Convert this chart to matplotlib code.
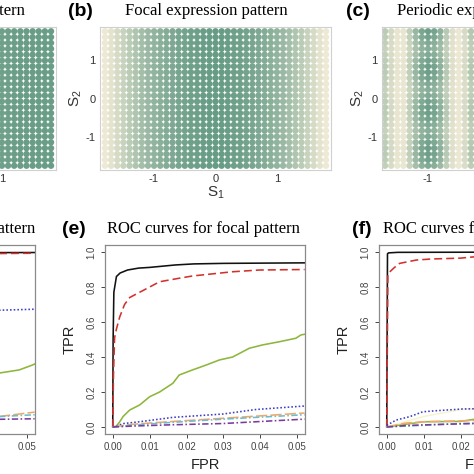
import numpy as np
import matplotlib
matplotlib.use("Agg")
import matplotlib.pyplot as plt
from matplotlib.colors import LinearSegmentedColormap

plt.rcParams["font.family"] = ["Liberation Sans", "DejaVu Sans"]
plt.rcParams["mathtext.default"] = "regular"

# spot grid of the simulated tissue
s1_grid = np.linspace(-1.78, 1.78, 37)
s2_grid = np.linspace(-1.73, 1.73, 24)

# expression level per column (0 = cream, 1 = green)
linear_cols = [0.05, 0.08, 0.11, 0.14, 0.17, 0.2, 0.23, 0.26, 0.3, 0.33, 0.36, 0.4, 0.43,
               0.47, 0.5, 0.54, 0.57, 0.61, 0.64, 0.68, 0.71, 0.75, 0.78, 0.82, 0.85, 0.88,
               0.9, 0.92, 0.94, 0.95, 0.96, 0.97, 0.97, 0.98, 0.98, 0.98, 0.98]
focal_cols = [0.03, 0.1, 0.2, 0.3, 0.4, 0.48, 0.56, 0.63, 0.69, 0.74, 0.79, 0.83, 0.87,
              0.9, 0.93, 0.95, 0.97, 0.99, 1.0, 0.99, 0.97, 0.95, 0.93, 0.9, 0.87, 0.83,
              0.79, 0.74, 0.69, 0.63, 0.56, 0.48, 0.4, 0.3, 0.2, 0.1, 0.03]
periodic_cols = [0.5, 0.4, 0.22, 0.08, 0.08, 0.35, 0.65, 0.85, 0.95, 0.88, 0.72, 0.42, 0.14,
                 0.05, 0.2, 0.45, 0.7, 0.85, 0.9, 0.85, 0.7, 0.45, 0.2, 0.05, 0.14, 0.42,
                 0.72, 0.88, 0.95, 0.85, 0.65, 0.35, 0.08, 0.08, 0.22, 0.4, 0.5]
# weak row-wise modulation of the periodic pattern (bottom to top)
periodic_rows = [0.85, 0.95, 1.0, 1.0, 0.95, 0.85, 0.8, 0.85, 0.95, 1.0, 1.0, 0.95, 0.85,
                 0.8, 0.85, 0.95, 1.0, 1.0, 0.95, 0.85, 0.8, 0.85, 0.95, 1.0]
flat_rows = [1.0] * 24

# ROC curves: FPR / TPR per method
roc_d = {
    "black": ([0, 0.0002, 0.001, 0.01, 0.052], [0, 0.98, 0.99, 0.995, 0.997]),
    "red": ([0, 0.0005, 0.002, 0.01, 0.052], [0, 0.9, 0.96, 0.985, 0.993]),
    "blue": ([0, 0.002, 0.01, 0.03, 0.052], [0, 0.4, 0.6, 0.66, 0.673]),
    "green": ([0, 0.005, 0.02, 0.042, 0.0478, 0.0514, 0.052], [0, 0.1, 0.22, 0.307, 0.326, 0.354, 0.36]),
    "orange": ([0, 0.02, 0.042, 0.052], [0, 0.03, 0.059, 0.085]),
    "cyan": ([0, 0.02, 0.042, 0.052], [0, 0.035, 0.059, 0.07]),
    "purple": ([0, 0.02, 0.042, 0.052], [0, 0.03, 0.044, 0.047]),
}
roc_e = {
    "black": ([0, 0.0001, 0.0003, 0.001, 0.002, 0.004, 0.007, 0.01, 0.013, 0.017, 0.022, 0.03, 0.052],
              [0, 0.5, 0.77, 0.86, 0.88, 0.897, 0.908, 0.912, 0.918, 0.926, 0.932, 0.935, 0.938]),
    "red": ([0, 0.0002, 0.0005, 0.001, 0.0019, 0.0032, 0.0046, 0.0073, 0.01, 0.0127, 0.018, 0.0216, 0.0324, 0.0397, 0.052],
            [0, 0.3, 0.51, 0.56, 0.63, 0.70, 0.74, 0.77, 0.80, 0.83, 0.85, 0.863, 0.887, 0.897, 0.90]),
    "green": ([0, 0.001, 0.0019, 0.0028, 0.0046, 0.0073, 0.01, 0.0127, 0.0163, 0.018, 0.0216, 0.0253, 0.0289, 0.0325, 0.037, 0.0406, 0.0451, 0.0496, 0.051, 0.052],
              [0, 0.005, 0.03, 0.06, 0.097, 0.126, 0.173, 0.20, 0.25, 0.297, 0.326, 0.354, 0.383, 0.40, 0.45, 0.469, 0.487, 0.507, 0.526, 0.53]),
    "blue": ([0, 0.003, 0.0073, 0.0163, 0.0298, 0.0388, 0.052], [0, 0.02, 0.03, 0.055, 0.074, 0.10, 0.12]),
    "orange": ([0, 0.005, 0.015, 0.03, 0.052], [0, 0.015, 0.03, 0.05, 0.08]),
    "cyan": ([0, 0.005, 0.015, 0.03, 0.052], [0, 0.01, 0.025, 0.045, 0.07]),
    "purple": ([0, 0.005, 0.015, 0.03, 0.052], [0, 0.005, 0.012, 0.02, 0.045]),
}
roc_f = {
    "black": ([0, 0.0002, 0.0005, 0.003, 0.052], [0, 0.99, 0.995, 0.998, 1.0]),
    "red": ([0, 0.0003, 0.001, 0.002, 0.0035, 0.008, 0.012, 0.02, 0.0235, 0.052],
            [0, 0.87, 0.89, 0.91, 0.935, 0.954, 0.96, 0.965, 0.972, 0.98]),
    "yellow": ([0, 0.005, 0.01, 0.02, 0.052], [0, 0.03, 0.06, 0.1, 0.14]),
    "blue": ([0, 0.0026, 0.0062, 0.0098, 0.0134, 0.0206, 0.0235, 0.052],
             [0.01, 0.04, 0.059, 0.087, 0.093, 0.103, 0.104, 0.12]),
    "green": ([0, 0.005, 0.01, 0.02, 0.024, 0.052], [0, 0.015, 0.03, 0.032, 0.045, 0.06]),
    "orange": ([0, 0.005, 0.01, 0.02, 0.052], [0, 0.022, 0.03, 0.035, 0.05]),
    "cyan": ([0, 0.01, 0.02, 0.052], [0, 0.01, 0.02, 0.04]),
    "purple": ([0, 0.005, 0.01, 0.02, 0.052], [0, 0.008, 0.012, 0.018, 0.03]),
}

styles = {
    "black": dict(color="#111111", ls="-"),
    "red": dict(color="#d2322d", ls=(0, (5, 2.5))),
    "yellow": dict(color="#f8f4d0", ls="-"),
    "green": dict(color="#8db63c", ls="-"),
    "blue": dict(color="#3c3cc8", ls=(0, (1, 1.3))),
    "orange": dict(color="#f0a868", ls=(0, (7, 2))),
    "cyan": dict(color="#6cbccc", ls=(0, (4, 1.5, 1, 1.5))),
    "purple": dict(color="#7a3c9c", ls=(0, (4, 1.5, 1, 1.5))),
}

cmap = LinearSegmentedColormap.from_list("expr", ["#f2ebd6", "#669b85"])

W = H = 474
fig = plt.figure(figsize=(4.74, 4.74), dpi=100)


def px_axes(x0, y0, x1, y1):
    return fig.add_axes([x0 / W, 1 - y1 / H, (x1 - x0) / W, (y1 - y0) / H])


def spot_panel(x0, x1, cols, rows, xlim):
    ax = px_axes(x0, 27, x1, 170)
    gx, gy = np.meshgrid(s1_grid, s2_grid)
    vals = np.outer(np.array(rows), np.array(cols))
    ax.scatter(gx.ravel(), gy.ravel(), c=vals.ravel(), cmap=cmap, vmin=0, vmax=1,
               s=21, linewidths=0)
    ax.set_xlim(*xlim)
    ax.set_ylim(-1.84, 1.84)
    ax.set_xticks([-1, 0, 1])
    ax.set_yticks([-1, 0, 1])
    ax.set_xticklabels(["-1", "0", "1"])
    ax.set_yticklabels(["-1", "0", "1"])
    ax.tick_params(length=0, labelsize=8, colors="#333333", pad=3)
    for sp in ax.spines.values():
        sp.set_color("#d0d0d0")
        sp.set_linewidth(0.8)
    ax.set_ylabel("S$_2$", fontsize=11, color="#333333", labelpad=1)
    ax.set_xlabel("S$_1$", fontsize=11, color="#333333", labelpad=0)
    return ax


def roc_panel(x0, x1, curves):
    ax = px_axes(x0, 245, x1, 434)
    for key, (fpr, tpr) in curves.items():
        ax.plot(fpr, tpr, lw=1.15, **styles[key])
    ax.set_xlim(-0.0021, 0.0521)
    ax.set_ylim(-0.04, 1.04)
    ax.set_xticks([0, 0.01, 0.02, 0.03, 0.04, 0.05])
    ax.set_xticklabels(["0.00", "0.01", "0.02", "0.03", "0.04", "0.05"])
    ax.set_yticks([0, 0.2, 0.4, 0.6, 0.8, 1.0])
    ax.set_yticklabels(["0.0", "0.2", "0.4", "0.6", "0.8", "1.0"], rotation=90, va="center")
    ax.tick_params(length=3, width=0.7, labelsize=7, colors="#444444", pad=3)
    for sp in ax.spines.values():
        sp.set_color("#8a8a8a")
        sp.set_linewidth(0.9)
    ax.set_xlabel("FPR", fontsize=10.5, color="#222222", labelpad=4)
    ax.set_ylabel("TPR", fontsize=10.5, color="#222222", labelpad=7)
    return ax


spot_panel(-175, 56, linear_cols, flat_rows, (-1.86, 1.86))
spot_panel(100, 331, focal_cols, flat_rows, (-1.86, 1.86))
spot_panel(382, 613, periodic_cols, periodic_rows, (-1.73, 1.99))

roc_panel(-165, 35, roc_d)
roc_panel(105, 305, roc_e)
roc_panel(379, 579, roc_f)

serif = ["Liberation Serif", "DejaVu Serif"]


def fig_text(x, y, s, **kw):
    fig.text(x / W, 1 - y / H, s, va="center", **kw)


fig_text(25, 11, "Linear expression pattern", ha="right", family=serif, fontsize=12)
fig_text(68, 11, "(b)", ha="left", fontsize=14, fontweight="bold")
fig_text(125, 11, "Focal expression pattern", ha="left", family=serif, fontsize=12)
fig_text(346, 11, "(c)", ha="left", fontsize=14, fontweight="bold")
fig_text(397, 11, "Periodic expression pattern", ha="left", family=serif, fontsize=12)

fig_text(35, 229, "ROC curves for linear pattern", ha="right", family=serif, fontsize=12)
fig_text(62, 229, "(e)", ha="left", fontsize=14, fontweight="bold")
fig_text(107, 229, "ROC curves for focal pattern", ha="left", family=serif, fontsize=12)
fig_text(352, 229, "(f)", ha="left", fontsize=14, fontweight="bold")
fig_text(383, 229, "ROC curves for periodic pattern", ha="left", family=serif, fontsize=12)

fig.savefig("out.png", dpi=100)
